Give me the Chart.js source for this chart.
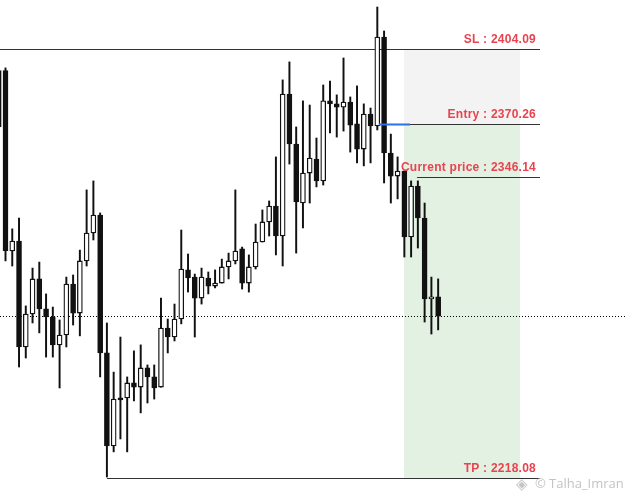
<!DOCTYPE html>
<html>
<head>
<meta charset="utf-8">
<script src="https://cdn.jsdelivr.net/npm/chart.js@4.4.1/dist/chart.umd.min.js"></script>
<style>
  html, body { margin: 0; padding: 0; background: #fff; overflow: hidden; }
  #chart { display: block; }
</style>
</head>
<body>
<canvas id="chart" width="625" height="499"></canvas>
<script>
/* candle data, one entry per bar, left to right */
const opens  = [2394.7,2394.7,2316.5,2320.8,2274.9,2289.2,2304.4,2291.4,2287.9,2275.8,2280.1,2302.2,2289.6,2312.2,2324.3,2332.1,2272.3,2232.0,2252.8,2252.8,2259.3,2257.5,2265.8,2261.9,2257.5,2283.1,2279.2,2287.0,2308.3,2305.2,2296.1,2304.8,2301.3,2302.6,2309.6,2312.2,2317.4,2302.6,2309.6,2320.4,2329.1,2336.0,2323.0,2384.6,2362.9,2337.3,2350.3,2356.4,2346.9,2381.6,2380.3,2378.9,2381.1,2371.6,2360.7,2375.9,2370.7,2409.3,2359.0,2349.0,2351.2,2322.6,2344.7,2330.8,2295.7,2296.6];
const highs  = [2395.9,2395.9,2326.1,2330.8,2292.7,2309.1,2311.7,2297.9,2292.2,2286.6,2305.2,2306.1,2316.9,2343.0,2346.9,2333.0,2285.3,2264.0,2279.2,2261.9,2273.2,2275.8,2267.1,2267.1,2296.1,2287.0,2293.5,2325.6,2315.2,2306.5,2309.1,2307.4,2308.3,2313.0,2315.6,2343.0,2318.2,2314.8,2328.2,2334.3,2338.2,2357.3,2390.7,2398.5,2370.3,2381.6,2379.8,2365.5,2388.5,2390.2,2384.2,2400.2,2383.3,2388.1,2380.3,2378.5,2422.3,2411.9,2367.2,2357.3,2351.2,2346.9,2346.9,2337.3,2305.2,2304.4];
const lows   = [2369.0,2312.2,2310.0,2266.2,2270.1,2285.3,2281.0,2270.5,2270.5,2257.1,2274.9,2284.4,2279.7,2310.0,2321.3,2261.9,2218.5,2229.4,2235.0,2229.4,2251.5,2246.3,2250.6,2252.3,2257.5,2272.3,2277.5,2284.9,2298.7,2279.2,2293.5,2297.9,2300.5,2302.6,2304.4,2310.9,2300.0,2298.7,2308.7,2320.4,2323.0,2314.8,2310.0,2354.2,2315.6,2326.5,2337.3,2344.3,2345.1,2367.7,2365.9,2368.5,2359.4,2354.7,2353.4,2354.7,2369.0,2346.0,2337.3,2339.1,2313.9,2313.9,2317.8,2285.7,2280.5,2282.3];
const closes = [2370.3,2316.6,2320.8,2274.9,2289.2,2304.4,2291.4,2287.9,2275.8,2280.1,2302.2,2289.6,2312.2,2324.3,2332.1,2272.3,2232.0,2252.3,2251.9,2259.3,2257.5,2265.8,2261.9,2257.1,2283.1,2279.2,2287.0,2308.7,2304.8,2296.1,2305.2,2301.3,2302.6,2309.6,2312.2,2316.5,2302.6,2309.6,2320.4,2329.1,2336.0,2323.0,2384.6,2362.9,2337.8,2350.3,2356.8,2346.9,2381.6,2380.3,2378.9,2381.1,2371.1,2360.7,2375.9,2370.7,2409.3,2359.0,2349.0,2351.2,2322.6,2344.7,2330.8,2295.7,2296.6,2288.3];

/* trade levels */
const levelLabels = ['SL : 2404.09', 'Entry : 2370.26', 'Current price : 2346.14', 'TP : 2218.08'];
const levelPrices = [2404.1, 2371.6, 2348.6, 2218.1];
const levelStart  = [null, 59.95, 61.87, 16];
const levelEnd    = 80.07;
const entryMarker = [56.25, 60.84];
const zoneFrom = 59.95, zoneTo = 77.1;
const dottedPrice = 2288.3;

const X_MIN = 0.186, X_MAX = 92.64;
const Y_MIN = 2208.97, Y_MAX = 2425.34;

const wickData = highs.map((h, i) => ({ x: i, y: [lows[i], h] }));
const bodyData = opens.map((o, i) => ({ x: i, y: [Math.min(o, closes[i]), Math.max(o, closes[i])] }));
const bodyFill = opens.map((o, i) => closes[i] < o ? '#111' : '#fff');

const tradePlot = {
  id: 'tradePlot',
  beforeDatasetsDraw(chart) {
    const { ctx, chartArea: a, scales: { x, y } } = chart;
    ctx.save();
    const zx0 = x.getPixelForValue(zoneFrom), zx1 = x.getPixelForValue(zoneTo);
    const ySL = y.getPixelForValue(levelPrices[0]);
    const yEn = y.getPixelForValue(levelPrices[1]);
    const yTP = y.getPixelForValue(levelPrices[3]);
    ctx.fillStyle = '#f3f3f3';
    ctx.fillRect(zx0, ySL, zx1 - zx0, yEn - ySL);
    ctx.fillStyle = '#e3f1e3';
    ctx.fillRect(zx0, yEn, zx1 - zx0, yTP - yEn);

    // dotted price line
    const yd = Math.round(y.getPixelForValue(dottedPrice)) + 0.5;
    ctx.strokeStyle = '#000';
    ctx.lineWidth = 1;
    ctx.setLineDash([1, 2]);
    ctx.beginPath(); ctx.moveTo(a.left, yd); ctx.lineTo(a.right, yd); ctx.stroke();
    ctx.setLineDash([]);

    ctx.strokeStyle = '#333';
    levelPrices.forEach((p, i) => {
      const yy = Math.round(y.getPixelForValue(p)) + 0.5;
      const x0 = levelStart[i] === null ? a.left : x.getPixelForValue(levelStart[i]);
      ctx.beginPath(); ctx.moveTo(x0, yy); ctx.lineTo(x.getPixelForValue(levelEnd), yy); ctx.stroke();
    });
    ctx.restore();
  },
  afterDatasetsDraw(chart) {
    const { ctx, chartArea: a, scales: { x, y } } = chart;
    ctx.save();
    // blue entry marker
    const ye = Math.round(y.getPixelForValue(levelPrices[1])) + 0.5;
    ctx.strokeStyle = '#2f6fe8';
    ctx.lineWidth = 2;
    ctx.beginPath();
    ctx.moveTo(x.getPixelForValue(entryMarker[0]), ye);
    ctx.lineTo(x.getPixelForValue(entryMarker[1]), ye);
    ctx.stroke();

    ctx.font = 'bold 12px "Liberation Sans", Arial, sans-serif';
    ctx.letterSpacing = '0.25px';
    ctx.fillStyle = '#e8434f';
    ctx.textAlign = 'right';
    ctx.textBaseline = 'alphabetic';
    const xr = x.getPixelForValue(levelEnd) - 4;
    levelLabels.forEach((t, i) => {
      ctx.fillText(t, xr, Math.round(y.getPixelForValue(levelPrices[i])) - 6);
    });
    ctx.letterSpacing = '0px';

    // watermark
    ctx.fillStyle = '#c4c4c4';
    ctx.textAlign = 'left';
    ctx.font = '15px "DejaVu Sans", sans-serif';
    ctx.fillText('\u25C8', 516, a.bottom - 10);
    ctx.font = '13px "Open Sans", sans-serif';
    ctx.fillText('\u00A9', 535, a.bottom - 11);
    ctx.fillText('Talha_Imran', 549, a.bottom - 11);
    ctx.restore();
  }
};

new Chart(document.getElementById('chart'), {
  type: 'bar',
  data: {
    datasets: [
      {
        label: 'body', data: bodyData, grouped: false, order: 0,
        backgroundColor: bodyFill, borderColor: '#111', borderWidth: 1.3,
        borderSkipped: false, barThickness: 5
      },
      {
        label: 'wick', data: wickData, grouped: false, order: 1,
        backgroundColor: '#111', borderWidth: 0, barThickness: 1.3
      }
    ]
  },
  options: {
    responsive: false, animation: false, maintainAspectRatio: false,
    layout: { padding: 0 },
    plugins: { legend: { display: false }, tooltip: { enabled: false } },
    scales: {
      x: { type: 'linear', display: false, offset: false, min: X_MIN, max: X_MAX },
      y: { type: 'linear', display: false, min: Y_MIN, max: Y_MAX, beginAtZero: false }
    }
  },
  plugins: [tradePlot]
});
</script>
</body>
</html>
